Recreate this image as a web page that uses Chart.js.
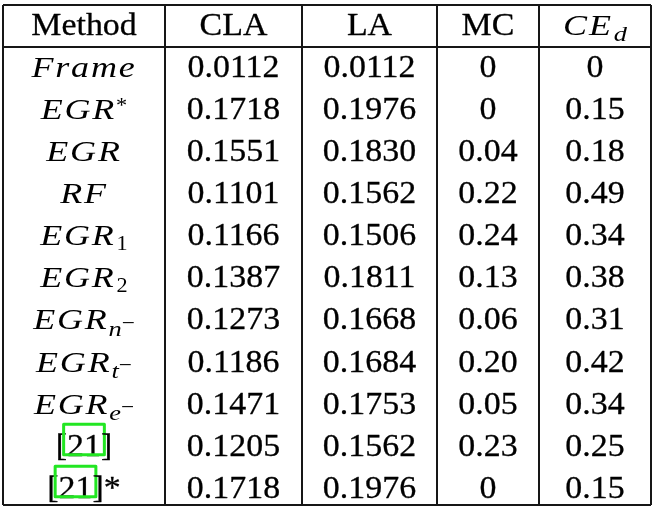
<!DOCTYPE html>
<html><head><meta charset="utf-8">
<script src="https://cdn.jsdelivr.net/npm/chart.js@4.4.1/dist/chart.umd.min.js"></script>
<style>html,body{margin:0;padding:0;background:#fff;}#wrap{width:655px;height:509px;}</style>
</head><body><div id="wrap"><canvas id="c" width="655" height="509"></canvas></div>
<script>
// ---- data ----
const headers = ['Method', 'CLA', 'LA', 'MC', 'CE_d'];
const methods = ['Frame', 'EGR*', 'EGR', 'RF', 'EGR_1', 'EGR_2', 'EGR_{n^-}', 'EGR_{t^-}', 'EGR_{e^-}', '[21]', '[21]*'];
const cla = [0.0112, 0.1718, 0.1551, 0.1101, 0.1166, 0.1387, 0.1273, 0.1186, 0.1471, 0.1205, 0.1718];
const la  = [0.0112, 0.1976, 0.1830, 0.1562, 0.1506, 0.1811, 0.1668, 0.1684, 0.1753, 0.1562, 0.1976];
const mc  = [0, 0, 0.04, 0.22, 0.24, 0.13, 0.06, 0.20, 0.05, 0.23, 0];
const ced = [0, 0.15, 0.18, 0.49, 0.34, 0.38, 0.31, 0.42, 0.34, 0.25, 0.15];

// ---- layout (scale units) ----
const colEdges = [0, 162, 299, 434, 536, 648];
const rowLines = [-0.703, 0.295, 11.17];

const fmt4 = v => v.toFixed(4);
const fmt2 = v => v === 0 ? '0' : v.toFixed(2);

const columnTexts = [
  [headers[0], ...methods],
  [headers[1], ...cla.map(fmt4)],
  [headers[2], ...la.map(fmt4)],
  [headers[3], ...mc.map(fmt2)],
  [headers[4], ...ced.map(fmt2)]
];

const SX = 1.06;
const SXI = 1.2;
const FAM = '"Liberation Serif", "Times New Roman", serif';
const UP = '32px ' + FAM;
const IT = 'italic 30px ' + FAM;
const INK = '#000';
const GREEN = '#22e622';

function segmentsFor(s, isMath) {
  let m = s.match(/^\[(\d+)\](\*?)$/);
  if (m) {
    const segs = [{t: '[', font: UP, st: 1}, {t: m[1], font: UP, box: true, st: 1}, {t: ']', font: UP, st: 1}];
    if (m[2]) segs.push({t: '*', font: UP, st: 1});
    return segs;
  }
  if (!isMath) return [{t: s, font: UP, st: 1}];
  m = s.match(/^([A-Za-z]+)(\*)?(?:_(?:\{(\w)\^-\}|(\w)))?$/);
  if (!m) return [{t: s, font: UP, st: 1}];
  const segs = [{t: m[1], font: IT, ls: 1.5, sx: SXI}];
  if (m[2]) segs.push({t: '*', font: '21px ' + FAM, dy: -6.5});
  if (m[3]) {
    segs.push({t: m[3], font: 'italic 22px ' + FAM, dy: 6.5, sx: 1.2});
    segs.push({t: '\u2212', font: '22px ' + FAM, dy: 0.5});
  } else if (m[4]) {
    if (/\d/.test(m[4])) segs.push({t: m[4], font: '21px ' + FAM, dy: 5, pre: 1});
    else segs.push({t: m[4], font: 'italic 22px ' + FAM, dy: 6.5, sx: 1.2, pre: 1});
  }
  return segs;
}

function drawRich(ctx, cx, by, segs) {
  ctx.save();
  let total = 0;
  segs.forEach(sg => {
    ctx.font = sg.font;
    ctx.letterSpacing = (sg.ls || 0) + 'px';
    sg.w = ctx.measureText(sg.t).width * (sg.sx || SX) + (sg.pre || 0);
    total += sg.w;
  });
  let x = cx - total / 2;
  ctx.fillStyle = INK;
  ctx.strokeStyle = INK;
  ctx.lineWidth = 0.3;
  ctx.lineJoin = 'round';
  ctx.textBaseline = 'alphabetic';
  ctx.textAlign = 'left';
  segs.forEach(sg => {
    const k = sg.sx || SX;
    ctx.save();
    ctx.translate(x + (sg.pre || 0), by);
    ctx.scale(k, 1);
    ctx.font = sg.font;
    ctx.letterSpacing = (sg.ls || 0) + 'px';
    ctx.fillText(sg.t, 0, sg.dy || 0);
    if (sg.st) ctx.strokeText(sg.t, 0, sg.dy || 0);
    ctx.restore();
    if (sg.box) {
      ctx.save();
      ctx.strokeStyle = GREEN;
      ctx.lineWidth = 3;
      ctx.strokeRect(x - 3.4, by - 31.5, sg.w + 6.8, 30.5);
      ctx.restore();
    }
    x += sg.w;
  });
  ctx.restore();
}

const textPlugin = {
  id: 'cellText',
  afterDraw(chart) {
    const ctx = chart.ctx;
    chart.data.datasets.forEach((ds, i) => {
      const meta = chart.getDatasetMeta(i);
      meta.data.forEach((el, j) => {
        const txt = ds.texts[j];
        const isMath = (i === 0 && j > 0) || (i === 4 && j === 0);
        drawRich(ctx, el.x, el.y, segmentsFor(txt, isMath));
      });
    });
  }
};

const datasets = columnTexts.map((texts, i) => ({
  label: headers[i],
  texts: texts,
  data: texts.map((_, j) => ({x: (colEdges[i] + colEdges[i + 1]) / 2, y: j})),
  pointRadius: 0,
  pointHoverRadius: 0,
  showLine: false
}));

new Chart(document.getElementById('c'), {
  type: 'scatter',
  data: {datasets},
  plugins: [textPlugin],
  options: {
    responsive: false,
    animation: false,
    events: [],
    layout: {padding: {left: 3, right: 4, top: 5, bottom: 4}},
    plugins: {legend: {display: false}, tooltip: {enabled: false}},
    scales: {
      x: {
        type: 'linear', min: colEdges[0], max: colEdges[colEdges.length - 1],
        afterBuildTicks: s => { s.ticks = colEdges.map(v => ({value: v})); },
        ticks: {display: false},
        border: {display: false},
        grid: {display: true, drawTicks: false, color: '#161616', lineWidth: 2}
      },
      y: {
        type: 'linear', reverse: true, min: rowLines[0], max: rowLines[rowLines.length - 1],
        afterBuildTicks: s => { s.ticks = rowLines.map(v => ({value: v})); },
        ticks: {display: false},
        border: {display: false},
        grid: {display: true, drawTicks: false, color: '#161616', lineWidth: 2}
      }
    }
  }
});
</script></body></html>
